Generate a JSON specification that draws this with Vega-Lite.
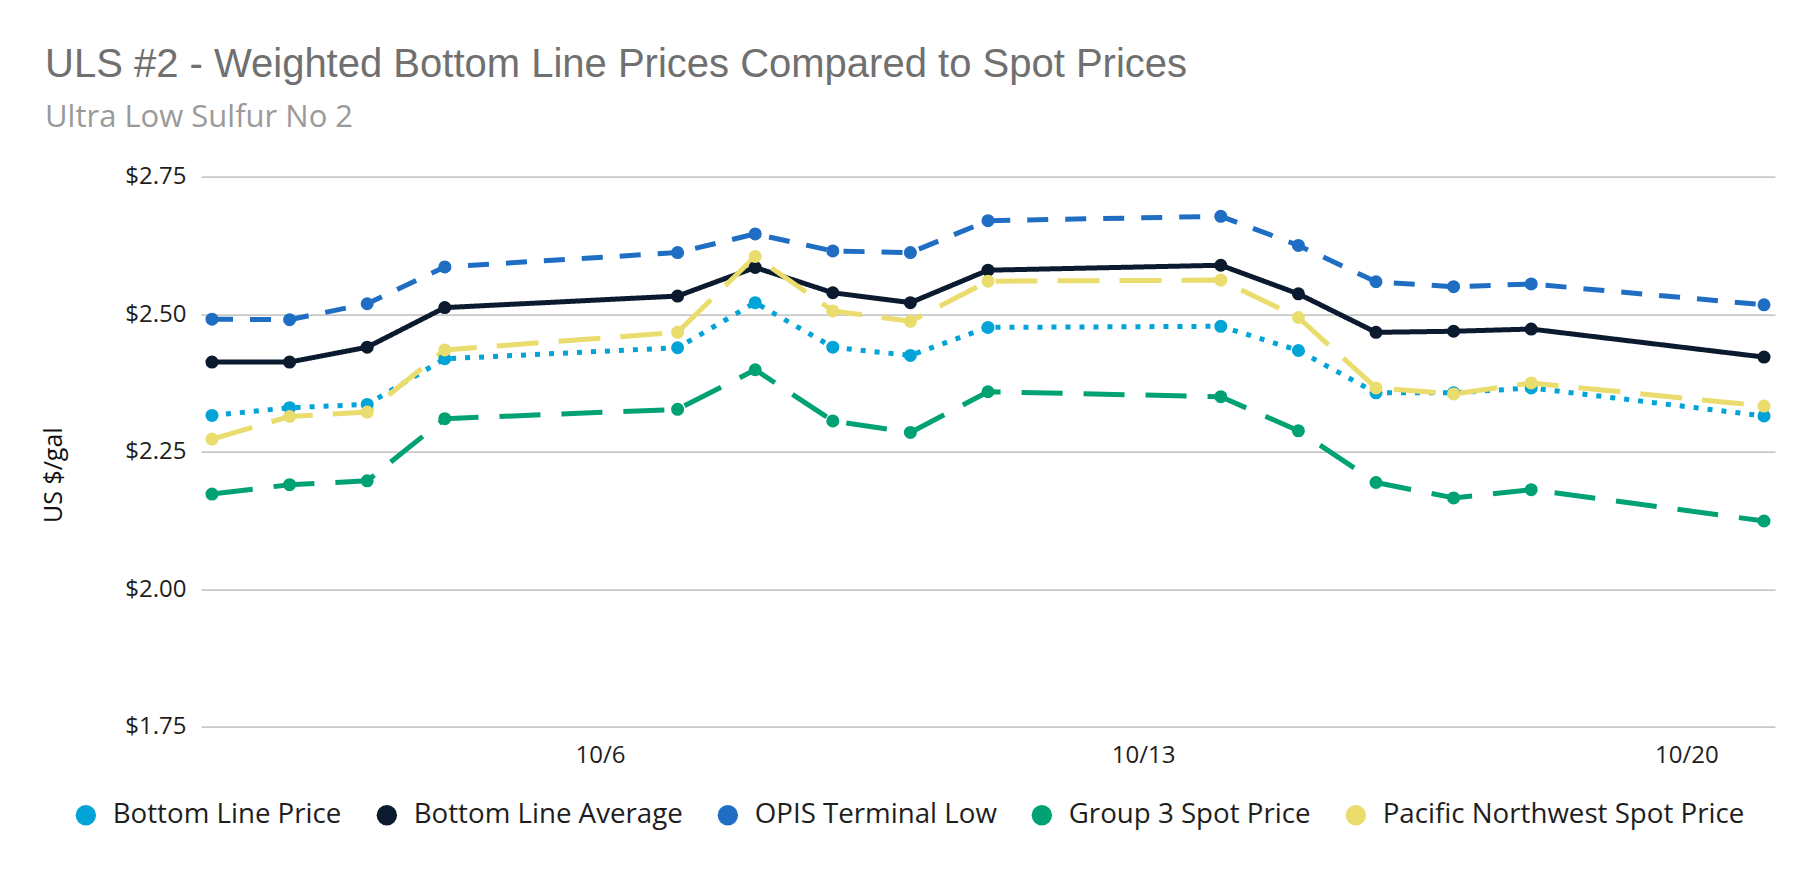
{
  "$schema": "https://vega.github.io/schema/vega-lite/v6.json",
  "autosize": {"type": "none"},
  "width": 1574,
  "height": 550,
  "padding": {"left": 201, "top": 176.7, "right": 43, "bottom": 147.3},
  "background": "white",
  "title": {
    "text": "ULS #2 - Weighted Bottom Line Prices Compared to Spot Prices",
    "subtitle": "Ultra Low Sulfur No 2",
    "anchor": "start",
    "frame": "group",
    "dx": -156,
    "font": "Liberation Sans",
    "fontSize": 40,
    "fontWeight": "normal",
    "color": "#707070",
    "subtitleFont": "Open Sans",
    "subtitleFontSize": 31,
    "subtitleColor": "#9A9A9A",
    "subtitlePadding": 18,
    "offset": 32
  },
  "config": {
    "view": {"stroke": null},
    "axis": {"labelFont": "Open Sans", "titleFont": "Open Sans"}
  },
  "data": {
    "values": [
      {"date": "2024-10-01", "series": "Bottom Line Price", "value": 2.316},
      {"date": "2024-10-02", "series": "Bottom Line Price", "value": 2.330},
      {"date": "2024-10-03", "series": "Bottom Line Price", "value": 2.336},
      {"date": "2024-10-04", "series": "Bottom Line Price", "value": 2.419},
      {"date": "2024-10-07", "series": "Bottom Line Price", "value": 2.439},
      {"date": "2024-10-08", "series": "Bottom Line Price", "value": 2.521},
      {"date": "2024-10-09", "series": "Bottom Line Price", "value": 2.440},
      {"date": "2024-10-10", "series": "Bottom Line Price", "value": 2.425},
      {"date": "2024-10-11", "series": "Bottom Line Price", "value": 2.476},
      {"date": "2024-10-14", "series": "Bottom Line Price", "value": 2.478},
      {"date": "2024-10-15", "series": "Bottom Line Price", "value": 2.434},
      {"date": "2024-10-16", "series": "Bottom Line Price", "value": 2.357},
      {"date": "2024-10-17", "series": "Bottom Line Price", "value": 2.357},
      {"date": "2024-10-18", "series": "Bottom Line Price", "value": 2.366},
      {"date": "2024-10-21", "series": "Bottom Line Price", "value": 2.315},

      {"date": "2024-10-01", "series": "Bottom Line Average", "value": 2.413},
      {"date": "2024-10-02", "series": "Bottom Line Average", "value": 2.413},
      {"date": "2024-10-03", "series": "Bottom Line Average", "value": 2.440},
      {"date": "2024-10-04", "series": "Bottom Line Average", "value": 2.512},
      {"date": "2024-10-07", "series": "Bottom Line Average", "value": 2.533},
      {"date": "2024-10-08", "series": "Bottom Line Average", "value": 2.585},
      {"date": "2024-10-09", "series": "Bottom Line Average", "value": 2.539},
      {"date": "2024-10-10", "series": "Bottom Line Average", "value": 2.521},
      {"date": "2024-10-11", "series": "Bottom Line Average", "value": 2.580},
      {"date": "2024-10-14", "series": "Bottom Line Average", "value": 2.589},
      {"date": "2024-10-15", "series": "Bottom Line Average", "value": 2.537},
      {"date": "2024-10-16", "series": "Bottom Line Average", "value": 2.467},
      {"date": "2024-10-17", "series": "Bottom Line Average", "value": 2.469},
      {"date": "2024-10-18", "series": "Bottom Line Average", "value": 2.473},
      {"date": "2024-10-21", "series": "Bottom Line Average", "value": 2.422},

      {"date": "2024-10-01", "series": "OPIS Terminal Low", "value": 2.491},
      {"date": "2024-10-02", "series": "OPIS Terminal Low", "value": 2.490},
      {"date": "2024-10-03", "series": "OPIS Terminal Low", "value": 2.519},
      {"date": "2024-10-04", "series": "OPIS Terminal Low", "value": 2.586},
      {"date": "2024-10-07", "series": "OPIS Terminal Low", "value": 2.612},
      {"date": "2024-10-08", "series": "OPIS Terminal Low", "value": 2.646},
      {"date": "2024-10-09", "series": "OPIS Terminal Low", "value": 2.615},
      {"date": "2024-10-10", "series": "OPIS Terminal Low", "value": 2.612},
      {"date": "2024-10-11", "series": "OPIS Terminal Low", "value": 2.670},
      {"date": "2024-10-14", "series": "OPIS Terminal Low", "value": 2.678},
      {"date": "2024-10-15", "series": "OPIS Terminal Low", "value": 2.625},
      {"date": "2024-10-16", "series": "OPIS Terminal Low", "value": 2.559},
      {"date": "2024-10-17", "series": "OPIS Terminal Low", "value": 2.550},
      {"date": "2024-10-18", "series": "OPIS Terminal Low", "value": 2.555},
      {"date": "2024-10-21", "series": "OPIS Terminal Low", "value": 2.517},

      {"date": "2024-10-01", "series": "Group 3 Spot Price", "value": 2.173},
      {"date": "2024-10-02", "series": "Group 3 Spot Price", "value": 2.190},
      {"date": "2024-10-03", "series": "Group 3 Spot Price", "value": 2.197},
      {"date": "2024-10-04", "series": "Group 3 Spot Price", "value": 2.310},
      {"date": "2024-10-07", "series": "Group 3 Spot Price", "value": 2.327},
      {"date": "2024-10-08", "series": "Group 3 Spot Price", "value": 2.399},
      {"date": "2024-10-09", "series": "Group 3 Spot Price", "value": 2.306},
      {"date": "2024-10-10", "series": "Group 3 Spot Price", "value": 2.285},
      {"date": "2024-10-11", "series": "Group 3 Spot Price", "value": 2.359},
      {"date": "2024-10-14", "series": "Group 3 Spot Price", "value": 2.350},
      {"date": "2024-10-15", "series": "Group 3 Spot Price", "value": 2.288},
      {"date": "2024-10-16", "series": "Group 3 Spot Price", "value": 2.194},
      {"date": "2024-10-17", "series": "Group 3 Spot Price", "value": 2.166},
      {"date": "2024-10-18", "series": "Group 3 Spot Price", "value": 2.181},
      {"date": "2024-10-21", "series": "Group 3 Spot Price", "value": 2.124},

      {"date": "2024-10-01", "series": "Pacific Northwest Spot Price", "value": 2.273},
      {"date": "2024-10-02", "series": "Pacific Northwest Spot Price", "value": 2.314},
      {"date": "2024-10-03", "series": "Pacific Northwest Spot Price", "value": 2.322},
      {"date": "2024-10-04", "series": "Pacific Northwest Spot Price", "value": 2.435},
      {"date": "2024-10-07", "series": "Pacific Northwest Spot Price", "value": 2.467},
      {"date": "2024-10-08", "series": "Pacific Northwest Spot Price", "value": 2.605},
      {"date": "2024-10-09", "series": "Pacific Northwest Spot Price", "value": 2.506},
      {"date": "2024-10-10", "series": "Pacific Northwest Spot Price", "value": 2.487},
      {"date": "2024-10-11", "series": "Pacific Northwest Spot Price", "value": 2.560},
      {"date": "2024-10-14", "series": "Pacific Northwest Spot Price", "value": 2.562},
      {"date": "2024-10-15", "series": "Pacific Northwest Spot Price", "value": 2.494},
      {"date": "2024-10-16", "series": "Pacific Northwest Spot Price", "value": 2.366},
      {"date": "2024-10-17", "series": "Pacific Northwest Spot Price", "value": 2.355},
      {"date": "2024-10-18", "series": "Pacific Northwest Spot Price", "value": 2.375},
      {"date": "2024-10-21", "series": "Pacific Northwest Spot Price", "value": 2.333}
    ]
  },
  "encoding": {
    "x": {
      "field": "date",
      "type": "temporal",
      "scale": {
        "type": "utc",
        "domain": [
          {"year": 2024, "month": 9, "date": 30, "hours": 20, "minutes": 36, "utc": true},
          {"year": 2024, "month": 10, "date": 21, "hours": 3, "minutes": 24, "utc": true}
        ]
      },
      "axis": {
        "title": null,
        "values": [
          {"year": 2024, "month": 10, "date": 6, "utc": true},
          {"year": 2024, "month": 10, "date": 13, "utc": true},
          {"year": 2024, "month": 10, "date": 20, "utc": true}
        ],
        "format": "%-m/%-d",
        "domain": false,
        "ticks": false,
        "grid": false,
        "labelFlush": false,
        "labelFontSize": 24,
        "labelColor": "#1E1E1E",
        "labelPadding": 17
      }
    },
    "y": {
      "field": "value",
      "type": "quantitative",
      "scale": {"domain": [1.75, 2.75], "nice": false, "zero": false},
      "axis": {
        "values": [1.75, 2.0, 2.25, 2.5, 2.75],
        "format": "$.2f",
        "domain": false,
        "ticks": false,
        "grid": true,
        "gridColor": "#C8C8C8",
        "gridWidth": 1.7,
        "labelFontSize": 24,
        "labelColor": "#1E1E1E",
        "labelPadding": 15,
        "title": "US $/gal",
        "titleFontSize": 25,
        "titleFontWeight": "normal",
        "titleColor": "#111111",
        "titleAngle": 270,
        "titleAlign": "center",
        "titleBaseline": "middle",
        "titleX": -148,
        "titleY": 298
      }
    },
    "color": {
      "field": "series",
      "type": "nominal",
      "scale": {
        "domain": ["Bottom Line Price", "Bottom Line Average", "OPIS Terminal Low", "Group 3 Spot Price", "Pacific Northwest Spot Price"],
        "range": ["#02A4D8", "#0B1A2F", "#1F6EC3", "#00A274", "#EADD6E"]
      }
    }
  },
  "resolve": {"legend": {"color": "independent", "strokeDash": "independent"}},
  "layer": [
    {
      "mark": {"type": "line", "strokeWidth": 5, "strokeCap": "butt", "strokeJoin": "round"},
      "encoding": {
        "color": {
          "field": "series",
          "type": "nominal",
          "legend": null,
          "scale": {
            "domain": ["Bottom Line Price", "Bottom Line Average", "OPIS Terminal Low", "Group 3 Spot Price", "Pacific Northwest Spot Price"],
            "range": ["#02A4D8", "#0B1A2F", "#1F6EC3", "#00A274", "#EADD6E"]
          }
        },
        "strokeDash": {
          "field": "series",
          "type": "nominal",
          "legend": null,
          "scale": {
            "domain": ["Bottom Line Price", "Bottom Line Average", "OPIS Terminal Low", "Group 3 Spot Price", "Pacific Northwest Spot Price"],
            "range": [[5, 9], [1, 0], [21, 17], [41, 21], [42, 20]]
          }
        }
      }
    },
    {
      "mark": {"type": "point", "filled": true, "opacity": 1, "size": 170, "shape": "circle"},
      "encoding": {
        "color": {
          "field": "series",
          "type": "nominal",
          "legend": null,
          "scale": {
            "domain": ["Bottom Line Price", "Bottom Line Average", "OPIS Terminal Low", "Group 3 Spot Price", "Pacific Northwest Spot Price"],
            "range": ["#02A4D8", "#0B1A2F", "#1F6EC3", "#00A274", "#EADD6E"]
          }
        }
      }
    },
    {
      "mark": {"type": "point", "filled": true, "opacity": 0, "size": 415, "shape": "circle"},
      "encoding": {
        "color": {
          "field": "series",
          "type": "nominal",
          "scale": {
            "domain": ["Bottom Line Price", "Bottom Line Average", "OPIS Terminal Low", "Group 3 Spot Price", "Pacific Northwest Spot Price"],
            "range": ["#02A4D8", "#0B1A2F", "#1F6EC3", "#00A274", "#EADD6E"]
          },
          "legend": {
            "title": null,
            "orient": "none",
            "direction": "horizontal",
            "legendX": -129,
            "legendY": 624.5,
            "symbolType": "circle",
            "symbolSize": 415,
            "symbolStrokeWidth": 0,
            "symbolOpacity": 1,
            "labelFont": "Open Sans",
            "labelFontSize": 27.7,
            "labelColor": "#1E1E1E",
            "labelOffset": 13,
            "columnPadding": 31,
            "labelLimit": 600
          }
        }
      }
    }
  ]
}
